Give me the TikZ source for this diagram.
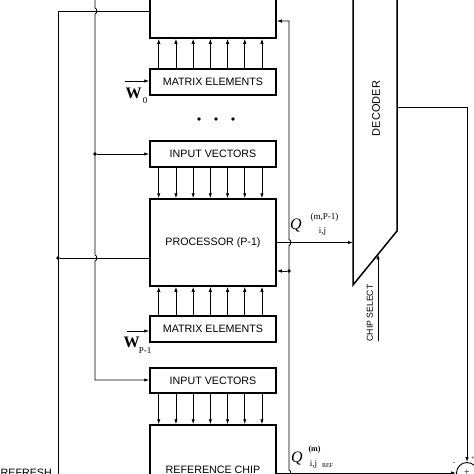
\documentclass[tikz,border=0pt]{standalone}
\usepackage{fontspec}
\setmainfont{Liberation Serif}
\setsansfont{Liberation Sans}
\usetikzlibrary{arrows.meta,calc}
\tikzset{
    block/.style={rectangle,draw,line width=1.5pt,minimum width=126,minimum height=26,inner sep=0pt,font=\sffamily\fontsize{10.7}{12}\selectfont},
    wire/.style={line width=0.8pt},
    directed/.style={wire,arrows={-Latex[length=5pt,width=3.4pt]}},
    dot/.style={circle,fill,inner sep=0pt,minimum size=3.8},
    vlabel/.style={rotate=90,inner sep=0pt,font=\sffamily\fontsize{11}{12}\selectfont},
    sym/.style={inner sep=0pt,font=\fontsize{9}{9}\selectfont},
    bigq/.style={inner sep=0pt,font=\itshape\fontsize{16}{16}\selectfont},
    bigw/.style={inner sep=0pt,font=\bfseries\fontsize{16}{16}\selectfont},
    tiny/.style={inner sep=0pt,font=\fontsize{7}{7}\selectfont},
    }

\begin{document}
\begin{tikzpicture}[x=1pt,y=-1pt]
    \useasboundingbox (0,0) rectangle (474,474);
    \clip (0,0) rectangle (474,474);

		\node[block,minimum height=88] (proc0) at (213,-6) {};
		\node[block] (me0) at (213,82) {MATRIX ELEMENTS};
		\node[block] (iv0) at (213,154) {INPUT VECTORS};
		\node[block,minimum height=87] (procP) at (213,242.5) {PROCESSOR (P-1)};
		\node[block] (meP) at (213,329) {MATRIX ELEMENTS};
		\node[block,minimum height=25] (ivP) at (213,380.5) {INPUT VECTORS};
		\node[block,minimum height=90] (ref) at (213,470) {REFERENCE CHIP};

        \foreach \x [count=\i] in {199,216,233}
            \node[dot] (ell\i) at (\x,119) {};

	% data buses between the blocks
	\foreach \dx in {9.5,26.7,43.9,61.1,78.3,95.5,112.7}{
        \draw[directed] ([xshift=\dx]me0.north west) -- ([xshift=\dx]proc0.south west);
        \draw[directed] ([xshift=\dx]iv0.south west) -- ([xshift=\dx]procP.north west);
        \draw[directed] ([xshift=\dx]meP.north west) -- ([xshift=\dx]procP.south west);
        \draw[directed] ([xshift=\dx]ivP.south west) -- ([xshift=\dx]ref.north west);
	}

	% decoder
	\coordinate (dtl) at (353,-10);
	\coordinate (dbl) at (353,285);
	\coordinate (dbr) at (397,231);
	\coordinate (dtr) at (397,-10);
	\coordinate (dout) at (397,107);
	\draw[line width=1.5pt] (dtl) -- (dbl) -- (dbr) -- (dtr);
		\node[vlabel] (dec) at (376,108.5) {DECODER};

		\node[circle,draw,line width=0.9pt,minimum size=21,inner sep=0pt,font=\fontsize{10}{10}\selectfont] (sum) at (467,473) {+};

	% control lines
	\coordinate (lbus) at (58,11);
	\coordinate (lbusend) at (58,520);
	\coordinate (ltap) at (58,258);
	\coordinate (mbus) at (95,-10);
	\coordinate (mturn) at (95,380);
	\coordinate (rbus) at (289,21);
	\coordinate (rbusend) at (289,520);
	\coordinate (rtap) at (289,271);

	\draw[wire] (lbusend) -- (lbus) -- (lbus -| proc0.west);
	\draw[directed] (mbus) -- (95,8) to[out=0,in=0] (95,14) -- (95,255) to[out=0,in=0] (95,261) -- (mturn) -- (mturn -| ivP.west);
	\draw[directed] (rbusend) -- (289,476) to[out=0,in=0] (289,470) -- (289,245.5) to[out=0,in=0] (289,239.5) -- (rbus) -- (rbus -| proc0.east);

		\node[dot] (tapiv) at (mbus |- iv0.west) {};
		\node[dot] (tapl) at (ltap) {};
		\node[dot] (tapr) at (rtap) {};
	\draw[directed] (tapiv) -- (iv0.west);
	\draw[wire] (tapl) -- (ltap -| procP.west);
	\draw[directed] (tapr) -- (rtap -| procP.east);

	% outputs
	\draw[directed] (procP.east) -- (procP.east -| dtl);
	\draw[directed] (ref.east |- sum.west) -- (sum.west);
	\draw[directed] (dout) -| (sum.north);

	\coordinate (csel) at (378,341);
	\coordinate (cdec) at ($(dbr)!0.432!(dbl)$);
	\draw[directed] (csel) -- (csel |- cdec);
		\node[vlabel,font=\sffamily\fontsize{8.7}{9}\selectfont] (cs) at (370,313) {CHIP SELECT};

	% weight inputs
	\coordinate (w0) at (125,81);
	\coordinate (wP) at (127,331);
	\draw[directed] (w0) -- (w0 -| me0.west);
	\draw[directed] (wP) -- (wP -| meP.west);
		\node[bigw] (w0sym) at (133.5,93) {W};
		\node[sym] (w0sub) at (145,100.5) {0};
		\node[bigw] (wPsym) at (131.5,342) {W};
		\node[sym] (wPsub) at (145,351) {P-1};

	% labels
		\node[bigq] (qP) at (296,225) {Q};
		\node[sym] (qPsup) at (324.5,217) {(m,P-1)};
		\node[sym] (qPsub) at (322.5,231) {i,j};
		\node[bigq] (qR) at (297,458) {Q};
		\node[sym,font=\bfseries\fontsize{8}{8}\selectfont] (qRsup) at (314.5,449.5) {(m)};
		\node[sym] (qRsub) at (313.5,464) {i,j};
		\node[sym,font=\fontsize{6}{6}\selectfont] (qRref) at (327.5,465.5) {REF};
		\node[tiny] (plus) at (473,459) {+};
		\node[tiny] (minus) at (454,464) {-};
		\node[anchor=east,inner sep=0pt,font=\sffamily\fontsize{10.7}{12}\selectfont] (refresh) at (52,473) {REFRESH};
\end{tikzpicture}
\end{document}
